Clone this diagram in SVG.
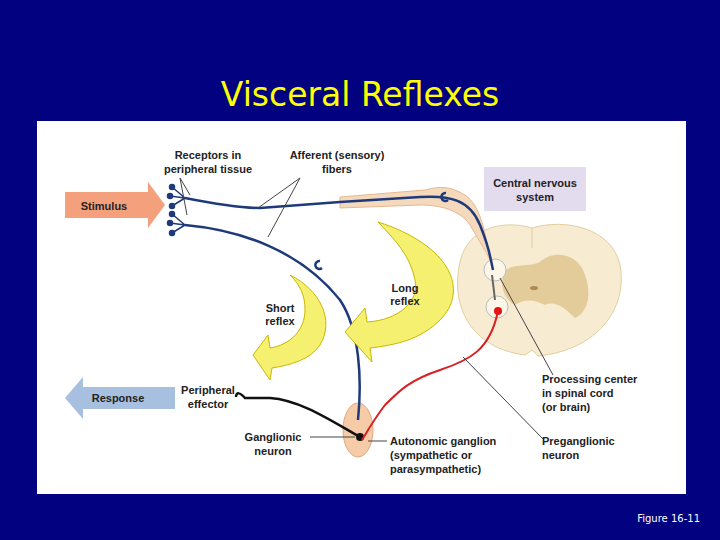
<svg xmlns="http://www.w3.org/2000/svg" width="720" height="540" viewBox="0 0 720 540">
<defs>
<style>
.t{font-family:"Liberation Sans",Arial,sans-serif;font-weight:bold;font-size:11px;fill:#222}
.ld{stroke:#444;stroke-width:1;fill:none}
.nv{stroke:#1f3a7a;stroke-width:2.5;fill:none}
.ar{fill:#f5f070;stroke:#c8b800;stroke-width:1}
</style>
</defs>
<rect width="720" height="540" fill="#020280"/>
<text x="360" y="106" text-anchor="middle" font-family="DejaVu Sans,Verdana,sans-serif" font-size="33" fill="#ffff00">Visceral Reflexes</text>
<rect x="37" y="121" width="649" height="373" fill="#fff"/>
<text x="700" y="522" text-anchor="end" font-family="DejaVu Sans,sans-serif" font-size="10" fill="#fff">Figure 16-11</text>

<g id="cns-label"><rect x="484" y="167" width="102" height="44" fill="#e3dbee"/>
<text class="t" x="535" y="187" text-anchor="middle">Central nervous</text>
<text class="t" x="535" y="201" text-anchor="middle">system</text></g>

<g id="spinal-cord">
<path d="M532,228 C505,220 468,226 460,262 C450,305 470,348 525,355 L532,350 L538,356 C598,350 628,308 620,265 C612,228 565,218 532,228 Z" fill="#f7ecd2" stroke="#e0cfa0"/>
<path d="M532,228 L532,248" stroke="#e0cfa0" fill="none"/>
<path d="M540,262 C552,250 578,252 585,275 C592,295 588,312 575,318 C565,308 555,300 545,305 C535,300 525,298 515,305 C505,300 498,285 505,272 C512,262 528,268 540,262 Z" fill="#e4cb9a"/>
<ellipse cx="534" cy="288" rx="4" ry="2" fill="#b08a50"/>
<circle cx="495" cy="270" r="11" fill="#fbf6e8" stroke="#bbb"/>
<circle cx="497" cy="307" r="11" fill="#fbf6e8" stroke="#bbb"/>
<path d="M492,275 L495,300" stroke="#666" stroke-width="2"/>
<circle cx="498" cy="311" r="4" fill="#e81010"/>
</g>

<g id="ganglion">
<ellipse cx="358" cy="430" rx="15" ry="27" fill="#f5cba8" stroke="#e0a880"/>
<circle cx="360" cy="437" r="4" fill="#111"/>
</g>

<g id="stimulus"><path d="M65,192 L148,192 L148,182 L165,205 L148,228 L148,218 L65,218 Z" fill="#f5a07c"/>
<text class="t" x="104" y="210" text-anchor="middle">Stimulus</text></g>
<g id="response"><path d="M175,387 L83,387 L83,377 L65,398 L83,419 L83,409 L175,409 Z" fill="#a8c0e0"/>
<text class="t" x="118" y="402" text-anchor="middle">Response</text></g>

<g id="connectors">
<path d="M340,197 L425,190 C440,186 450,186 465,195 C480,205 485,230 490,260 L486,252 L470,225 C460,210 440,205 420,205 L340,208 Z" fill="#f5d9bd" stroke="#e5b890"/>
<path class="nv" d="M185,198 C220,205 240,208 260,208 L340,202 L420,197 C450,195 470,200 480,225 C488,245 490,255 493,270"/>
<path class="nv" d="M185,225 C240,230 300,250 340,300 C360,330 362,380 358,420"/>
<path class="nv" d="M448,200 a4,4 0 1 1 -2,-7 M322,268 a4,4 0 1 1 -2,-7" stroke-width="2"/>
<g stroke="#1f3a7a" stroke-width="1.5" fill="#1f3a7a">
<path d="M185,198 L172,187 M185,198 L170,196 M185,198 L172,206 M185,225 L172,214 M185,225 L170,223 M185,225 L172,233" fill="none"/>
<circle cx="172" cy="187" r="2.5"/><circle cx="170" cy="196" r="2.5"/><circle cx="172" cy="206" r="2.5"/>
<circle cx="172" cy="214" r="2.5"/><circle cx="170" cy="223" r="2.5"/><circle cx="172" cy="233" r="2.5"/>
</g>
<path d="M498,311 C490,350 470,360 440,370 C410,380 400,390 385,405 C375,418 368,430 362,440" stroke="#d82020" stroke-width="2" fill="none"/>
<path d="M360,437 C330,420 300,400 270,398 L245,398 C240,392 236,392 236,397" stroke="#111" stroke-width="2.5" fill="none"/>
<path class="ld" d="M180,178 L190,195 M180,178 L187,215 M300,178 L258,208 M300,178 L268,237 M500,278 L553,375 M463,357 L544,440 M310,437 L355,437 M368,441 L387,441"/>
</g>

<g id="long-reflex"><path class="ar" d="M378,222 C450,245 470,290 440,320 C420,340 395,345 370,348 L372,362 L345,332 L365,308 L367,322 C400,320 420,300 415,280 C410,255 395,240 378,222 Z"/>
<text class="t" x="405" y="292" text-anchor="middle">Long</text><text class="t" x="405" y="305" text-anchor="middle">reflex</text></g>
<g id="short-reflex"><path class="ar" d="M290,275 C320,290 335,320 320,345 C310,360 290,365 272,368 L270,380 L253,355 L268,335 L270,348 C290,345 305,330 305,310 C305,295 300,285 290,275 Z"/>
<text class="t" x="280" y="312" text-anchor="middle">Short</text><text class="t" x="280" y="325" text-anchor="middle">reflex</text></g>

<g id="labels">
<text class="t" x="208" y="159" text-anchor="middle">Receptors in</text>
<text class="t" x="208" y="173" text-anchor="middle">peripheral tissue</text>
<text class="t" x="337" y="159" text-anchor="middle">Afferent (sensory)</text>
<text class="t" x="337" y="173" text-anchor="middle">fibers</text>
<text class="t" x="208" y="394" text-anchor="middle">Peripheral</text>
<text class="t" x="208" y="408" text-anchor="middle">effector</text>
<text class="t" x="273" y="441" text-anchor="middle">Ganglionic</text>
<text class="t" x="273" y="455" text-anchor="middle">neuron</text>
<text class="t" x="390" y="445">Autonomic ganglion</text>
<text class="t" x="390" y="459">(sympathetic or</text>
<text class="t" x="390" y="473">parasympathetic)</text>
<text class="t" x="542" y="383">Processing center</text>
<text class="t" x="542" y="397">in spinal cord</text>
<text class="t" x="542" y="411">(or brain)</text>
<text class="t" x="542" y="445">Preganglionic</text>
<text class="t" x="542" y="459">neuron</text>
</g>
</svg>
